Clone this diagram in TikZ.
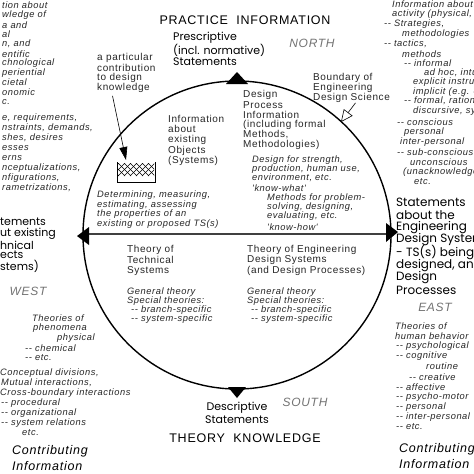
\documentclass[tikz,border=0pt]{standalone}
\usepackage{fontspec}
\setmainfont{Liberation Sans}
\newfontfamily\cad[LetterSpace=6]{Liberation Sans}
\newfontfamily\geo{Poppins}
\usetikzlibrary{arrows.meta}
\begin{document}
\begin{tikzpicture}[x=1pt,y=-1pt,
  txi/.style={font=\cad\fontsize{9.3}{10}\selectfont\itshape, anchor=west, inner sep=0pt, text=black!85},
  txu/.style={font=\cad\fontsize{10}{10}\selectfont, anchor=west, inner sep=0pt, text=black!85},
  txb/.style={font=\geo\fontsize{11}{12}\selectfont, anchor=west, inner sep=0pt},
  txbr/.style={font=\geo\fontsize{12}{12}\selectfont, anchor=west, inner sep=0pt},
  compass/.style={font=\cad\fontsize{12}{12}\selectfont\itshape, text=black!55, inner sep=0pt},
  capt/.style={font=\cad\fontsize{12.5}{12.5}\selectfont, inner sep=0pt},
  contribtx/.style={font=\cad\fontsize{12.5}{13}\selectfont\itshape, anchor=west, inner sep=0pt},
  tip/.style={fill=black},
  rim/.style={line width=1.4pt},
  leader/.style={line width=0.6pt}]
\useasboundingbox (0,0) rectangle (474,474);
\fill[white] (0,0) rectangle (474,474);
\clip (0,0) rectangle (474,474);

% ---------- circle, axis, arrowheads ----------
\coordinate (C) at (237,235);
\draw[rim] (C) circle[radius=154];
\coordinate (W) at (83,234);
\coordinate (E) at (391,234);
\draw[line width=1.3pt, black!75] (W) -- (E);
\fill[tip] (237,72) -- (226,84) -- (248,84) -- cycle;
\fill[tip] (237,398) -- (228,387) -- (246,387) -- cycle;
\fill[tip] (77,236) -- (89,227) -- (89,245) -- cycle;
\fill[tip] (398,232) -- (386,223) -- (386,242) -- cycle;

% ---------- titles ----------
\node[capt] (practice) at (245,20) {PRACTICE\ \ INFORMATION};
\node[capt] (theory) at (245,438) {THEORY\ \ KNOWLEDGE};
\node[compass] (north) at (312,43) {NORTH};
\node[compass] (south) at (305,402) {SOUTH};
\node[compass] (west) at (28,291) {WEST};
\node[compass] (east) at (435,307) {EAST};

% ---------- prescriptive / descriptive ----------
\foreach \px/\py/\tx [count=\i] in {173/38/{Prescriptive}, 173/50/{(incl. normative)}, 173/62/{Statements}}
  \node[txb] (pre\i) at (\px,\py) {\tx};
\node[txb, anchor=center] (desc1) at (237,408) {Descriptive};
\node[txb, anchor=center] (desc2) at (237,420) {Statements};

% ---------- left statements (cut) ----------
\foreach \px/\py/\tx [count=\i] in {0/222/{tements}, 0/234/{ut existing}, 0/245/{hnical}, 0/255/{ects}, 0/266/{stems)}}
  \node[txb] (lst\i) at (\px,\py) {\tx};

% ---------- right statements ----------
\foreach \px/\py/\tx [count=\i] in {396/202/{Statements}, 396/215/{about the}, 396/228/{Engineering}, 396/240/{Design System}, 396/253/{- TS(s) being}, 396/266/{designed, and}, 396/278/{Design}, 396/290/{Processes}}
  \node[txbr] (rst\i) at (\px,\py) {\tx};

% ---------- left column top ----------
\foreach \px/\py/\tx [count=\i] in {2/5/{tion about}, 2/15/{wledge of}, 2/25/{a and}, 2/34/{al}, 2/44/{n, and}, 2/54/{entific}, 2/63/{chnological}, 2/73/{periential}, 2/82/{cietal}, 2/92/{onomic}, 2/102/{c.}, 2/118/{e, requirements,}, 2/128/{nstraints, demands,}, 2/138/{shes, desires}, 2/148/{esses}, 2/158/{erns}, 2/168/{nceptualizations,}, 2/178/{nfigurations,}, 2/188/{rametrizations,}}
  \node[txi] (lt\i) at (\px,\py) {\tx};

% ---------- left column bottom ----------
\foreach \px/\py/\tx [count=\i] in {32/318/{Theories of}, 33/328/{phenomena}, 57/338/{physical}, 25/348/{-{}- chemical}, 25/358/{-{}- etc.}, 0/373/{Conceptual divisions,}, 1/383/{Mutual interactions,}, 0/393/{Cross-boundary interactions}, 1/403/{-{}- procedural}, 1/413/{-{}- organizational}, 1/423/{-{}- system relations}, 22/433/{etc.}}
  \node[txi] (lb\i) at (\px,\py) {\tx};
\node[contribtx] (lc1) at (12,451) {Contributing};
\node[contribtx] (lc2) at (12,466) {Information};

% ---------- right column top ----------
\foreach \px/\py/\tx [count=\i] in {392/4/{Information about}, 392/14/{activity (physical, mental)}, 384/24/{-{}- Strategies,}, 402/34/{methodologies}, 384/44/{-{}- tactics,}, 402/54/{methods}, 404/63/{-{}- informal}, 424/73/{ad hoc, intuitive}, 413/82/{explicit instructions}, 413/92/{implicit (e.g. examples)}, 404/101/{-{}- formal, rational}, 413/111/{discursive, systematic}, 397/122/{-{}- conscious}, 404/132/{personal}, 400/142/{inter-personal}, 397/152/{-{}- sub-conscious}, 410/162/{unconscious}, 403/172/{(unacknowledged)}, 414/182/{etc.}}
  \node[txi] (rt\i) at (\px,\py) {\tx};

% ---------- right column bottom ----------
\foreach \px/\py/\tx [count=\i] in {395/326/{Theories of}, 395/336/{human behavior}, 396/346/{-{}- psychological}, 396/356/{-{}- cognitive}, 426/366/{routine}, 409/377/{-{}- creative}, 396/387/{-{}- affective}, 396/397/{-{}- psycho-motor}, 396/407/{-{}- personal}, 396/417/{-{}- inter-personal}, 396/427/{-{}- etc.}}
  \node[txi] (rb\i) at (\px,\py) {\tx};
\node[contribtx] (rc1) at (399,449) {Contributing};
\node[contribtx] (rc2) at (399,464) {Information};

% ---------- inside: upper left ----------
\foreach \px/\py/\tx [count=\i] in {97/58/{a particular}, 97/68/{contribution}, 97/78/{to design}, 97/88/{knowledge}}
  \node[txu] (ak\i) at (\px,\py) {\tx};
\foreach \px/\py/\tx [count=\i] in {168/119/{Information}, 168/129/{about}, 168/140/{existing}, 168/151/{Objects}, 168/161/{(Systems)}}
  \node[txu] (io\i) at (\px,\py) {\tx};
\foreach \px/\py/\tx [count=\i] in {97/195/{Determining, measuring,}, 97/205/{estimating, assessing}, 97/214/{the properties of an}, 97/224/{existing or proposed TS(s)}}
  \node[txi] (dm\i) at (\px,\py) {\tx};

% hatched box
\coordinate (hatch) at (126,160);
\begin{scope}
  \clip (118,163) rectangle (154,176);
  \foreach \k in {-18,-12,...,42}{
    \draw[line width=0.5pt] (118+\k,163) -- ++(13,13);
    \draw[line width=0.5pt] (118+\k,176) -- ++(13,-13);
  }
\end{scope}
\draw[line width=0.7pt] (117,162) -- (117,182) -- (155,182) -- (155,162);
\draw[leader, -{Triangle[length=13pt,width=8pt]}] ([xshift=-11pt,yshift=-3pt]ak4.south) -- (hatch);

% ---------- inside: upper right ----------
\foreach \px/\py/\tx [count=\i] in {243/95/{Design}, 243/105/{Process}, 243/115/{Information}, 243/125/{(including formal}, 243/135/{Methods,}, 243/145/{Methodologies)}}
  \node[txu] (dp\i) at (\px,\py) {\tx};
\foreach \px/\py/\tx [count=\i] in {252/160/{Design for strength,}, 252/169/{production, human use,}, 252/178/{environment, etc.}, 252/188/{'know-what'}, 267/198/{Methods for problem-}, 267/207/{solving, designing,}, 267/216/{evaluating, etc.}, 267/227/{'know-how'}}
  \node[txi] (dk\i) at (\px,\py) {\tx};
\foreach \px/\py/\tx [count=\i] in {313/78/{Boundary of}, 313/88/{Engineering}, 313/98/{Design Science}}
  \node[txu] (bd\i) at (\px,\py) {\tx};
\coordinate (bdtip) at (341,122);
\draw[leader, -{Triangle[open,length=12pt,width=11pt,fill=white]}] ([xshift=4pt]bd3.south) -- (bdtip);

% ---------- inside: lower half ----------
\foreach \px/\py/\tx [count=\i] in {127/250/{Theory of}, 127/260/{Technical}, 127/271/{Systems}}
  \node[txu] (tt\i) at (\px,\py) {\tx};
\foreach \px/\py/\tx [count=\i] in {127/292/{General theory}, 127/301/{Special theories:}, 131/310/{-{}- branch-specific}, 131/319/{-{}- system-specific}}
  \node[txi] (tg\i) at (\px,\py) {\tx};
\foreach \px/\py/\tx [count=\i] in {247/250/{Theory of Engineering}, 247/260/{Design Systems}, 247/271/{(and Design Processes)}}
  \node[txu] (te\i) at (\px,\py) {\tx};
\foreach \px/\py/\tx [count=\i] in {247/292/{General theory}, 247/301/{Special theories:}, 251/310/{-{}- branch-specific}, 251/319/{-{}- system-specific}}
  \node[txi] (th\i) at (\px,\py) {\tx};
\end{tikzpicture}
\end{document}
